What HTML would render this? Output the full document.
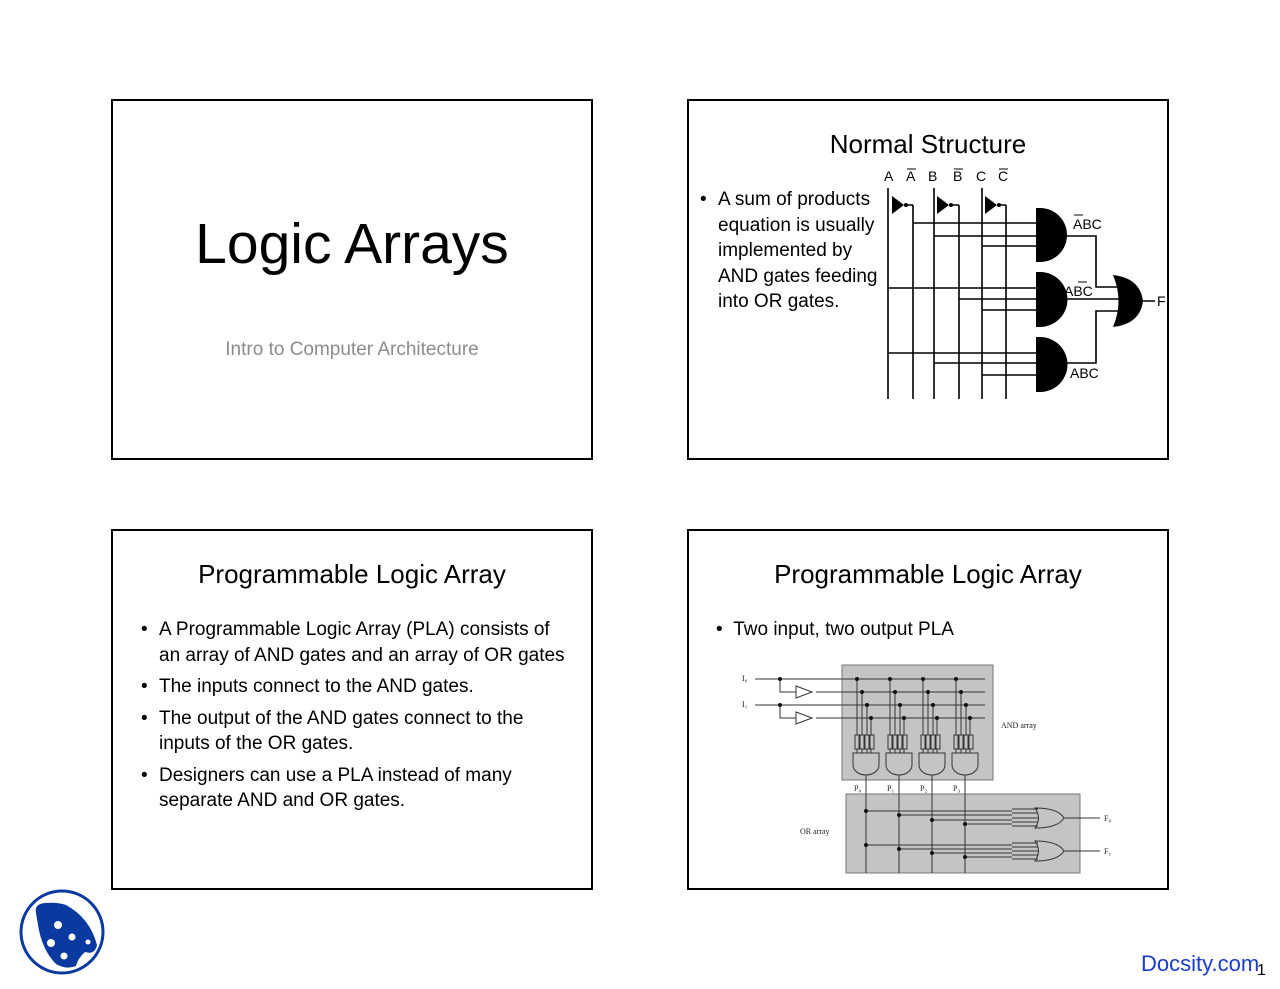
<!DOCTYPE html>
<html><head><meta charset="utf-8"><style>
body{margin:0;background:#fff;width:1280px;height:989px;overflow:hidden;font-family:"Liberation Sans",sans-serif}
.s{position:absolute;border:2px solid #000;box-sizing:border-box;width:482px;height:361px}
.t{position:absolute;font-family:"Liberation Sans",sans-serif;color:#000}
</style></head><body>
<div class="s" style="left:111px;top:99px"></div>
<div class="s" style="left:687px;top:99px"></div>
<div class="s" style="left:111px;top:529px"></div>
<div class="s" style="left:687px;top:529px"></div>

<div class="t" style="left:111px;width:482px;text-align:center;top:211px;font-size:57px">Logic Arrays</div>
<div class="t" style="left:111px;width:482px;text-align:center;top:339px;font-size:19px;color:#8c8c8c">Intro to Computer Architecture</div>

<div class="t" style="left:687px;width:482px;text-align:center;top:129px;font-size:26px">Normal Structure</div>
<div class="t" style="left:700px;top:187px;font-size:19px;line-height:25.5px">•</div>
<div class="t" style="left:718px;top:187px;font-size:19px;line-height:25.5px">A sum of products<br>equation is usually<br>implemented by<br>AND gates feeding<br>into OR gates.</div>

<div class="t" style="left:111px;width:482px;text-align:center;top:559px;font-size:26px">Programmable Logic Array</div>
<div class="t" style="left:141px;top:617px;font-size:19px;line-height:25.5px">
<div style="position:relative;padding-left:18px;margin-bottom:6px"><span style="position:absolute;left:0">•</span>A Programmable Logic Array (PLA) consists of<br>an array of AND gates and an array of OR gates</div>
<div style="position:relative;padding-left:18px;margin-bottom:6px"><span style="position:absolute;left:0">•</span>The inputs connect to the AND gates.</div>
<div style="position:relative;padding-left:18px;margin-bottom:6px"><span style="position:absolute;left:0">•</span>The output of the AND gates connect to the<br>inputs of the OR gates.</div>
<div style="position:relative;padding-left:18px"><span style="position:absolute;left:0">•</span>Designers can use a PLA instead of many<br>separate AND and OR gates.</div>
</div>

<div class="t" style="left:687px;width:482px;text-align:center;top:559px;font-size:26px">Programmable Logic Array</div>
<div class="t" style="left:716px;top:617px;font-size:19px;line-height:25.5px">•&nbsp;&nbsp;Two input, two output PLA</div>

<div style="position:absolute;left:1141px;top:951px;font-size:22px;color:#1a3cc8;font-family:'Liberation Sans',sans-serif">Docsity.com</div>
<div style="position:absolute;left:1257px;top:962px;font-size:16px">1</div>

<svg width="1280" height="989" style="position:absolute;left:0;top:0" font-family="Liberation Sans, sans-serif">
<circle cx="62" cy="932" r="41" fill="none" stroke="#0a3aa0" stroke-width="3"/>
<path d="M36 913 Q34 904 45 903 Q58 902 66 905 Q90 918 97 945 Q95 955 85 952 Q78 958 76 966 Q66 970 56 964 Q42 950 38 925 Z" fill="#0a3aa0"/>
<circle cx="58" cy="925" r="4" fill="#fff"/><circle cx="51" cy="943" r="4" fill="#fff"/><circle cx="72" cy="937" r="3.5" fill="#fff"/><circle cx="64" cy="956" r="3.5" fill="#fff"/><circle cx="88" cy="942" r="2.5" fill="#fff"/>

<g stroke="#000" stroke-width="1.6" fill="none">
<path d="M888 188V399M913 205V399M934 188V399M959 205V399M982 188V399M1006 205V399"/>
<path d="M905 205H913M949 205H959M997 205H1006"/>
<path d="M913 223H1036M934 236H1036M982 246H1036"/>
<path d="M888 288H1036M959 299H1036M982 310H1036"/>
<path d="M888 353H1036M934 363H1036M982 375H1036"/>
<path d="M1066 236H1096V287H1118M1066 299H1120M1066 363H1096V311H1118M1142 301H1155"/>
</g>
<g fill="#000">
<polygon points="892,196 892,214 904,205"/><polygon points="937,196 937,214 949,205"/><polygon points="985,196 985,214 997,205"/>
<circle cx="906" cy="205" r="2"/><circle cx="951" cy="205" r="2"/><circle cx="999" cy="205" r="2"/>
<path d="M1036 208H1040A27 27 0 0 1 1040 262H1036Z"/>
<path d="M1036 272H1040A27 27 0 0 1 1040 327H1036Z"/>
<path d="M1036 337H1040A27 27 0 0 1 1040 392H1036Z"/>
<path d="M1113 275Q1140 278 1143 301Q1140 324 1113 327Q1124 301 1113 275Z"/>
</g>
<g font-size="14" fill="#000">
<text x="884" y="181">A</text><text x="906" y="181">A</text><text x="928" y="181">B</text><text x="953" y="181">B</text><text x="976" y="181">C</text><text x="998" y="181">C</text>
<text x="1073" y="229">ABC</text><text x="1064" y="296">ABC</text><text x="1070" y="378">ABC</text><text x="1157" y="306">F</text>
</g>
<g stroke="#000" stroke-width="1"><path d="M907 169h9M954 169h9M999 169h9M1074 215h9M1078 282h9"/></g>

<rect x="842" y="665" width="151" height="115" fill="#c4c4c4" stroke="#777"/>
<rect x="846" y="794" width="234" height="79" fill="#c4c4c4" stroke="#777"/>
<g stroke="#333" stroke-width="1" fill="none">
<path d="M755 679H985M780 679V692H796M816 692H985M755 705H985M780 705V718H796M816 718H985"/>
<path d="M796 686L812 692L796 698Z M796 712L812 718L796 724Z"/>
<g id="c">
<path d="M857 679V735M862 692V735M867 705V735M871 718V735"/>
<rect x="855" y="735" width="4" height="14"/><rect x="860" y="735" width="4" height="14"/><rect x="865" y="735" width="4" height="14"/><rect x="870" y="735" width="4" height="14"/>
<path d="M857 749V753M862 749V753M867 749V753M871 749V753"/>
<path d="M853 753H879V765A13 10 0 0 1 853 765Z"/>
<path d="M866 775V873"/>
</g>
<use href="#c" x="33"/><use href="#c" x="66"/><use href="#c" x="99"/>
<path d="M866 811H1012M899 815H1012M932 820H1012M965 824H1012M866 845H1012M899 849H1012M932 853H1012M965 857H1012"/>
<path d="M1012 809h26M1012 813h26M1012 818h26M1012 822h26M1012 826h26M1012 843h26M1012 847h26M1012 851h26M1012 855h26M1012 859h26"/>
<path d="M1035 808Q1058 808 1064 818Q1058 828 1035 828Q1042 818 1035 808Z"/>
<path d="M1035 841Q1058 841 1064 851Q1058 861 1035 861Q1042 851 1035 841Z"/>
<path d="M1064 818H1100M1064 851H1100"/>
</g>
<g fill="#111">
<circle cx="780" cy="679" r="2"/><circle cx="780" cy="705" r="2"/>
<circle cx="857" cy="679" r="2"/><circle cx="862" cy="692" r="2"/><circle cx="867" cy="705" r="2"/><circle cx="871" cy="718" r="2"/>
<circle cx="890" cy="679" r="2"/><circle cx="895" cy="692" r="2"/><circle cx="900" cy="705" r="2"/><circle cx="904" cy="718" r="2"/>
<circle cx="923" cy="679" r="2"/><circle cx="928" cy="692" r="2"/><circle cx="933" cy="705" r="2"/><circle cx="937" cy="718" r="2"/>
<circle cx="956" cy="679" r="2"/><circle cx="961" cy="692" r="2"/><circle cx="966" cy="705" r="2"/><circle cx="970" cy="718" r="2"/>
<circle cx="866" cy="811" r="2"/><circle cx="899" cy="815" r="2"/><circle cx="932" cy="820" r="2"/><circle cx="965" cy="824" r="2"/>
<circle cx="866" cy="845" r="2"/><circle cx="899" cy="849" r="2"/><circle cx="932" cy="853" r="2"/><circle cx="965" cy="857" r="2"/>
</g>
<g font-family="Liberation Serif, serif" font-size="8" fill="#222">
<text x="742" y="681">I₀</text><text x="742" y="707">I₁</text><text x="1001" y="728">AND array</text><text x="800" y="834">OR array</text>
<text x="854" y="791">P₀</text><text x="887" y="791">P₁</text><text x="920" y="791">P₂</text><text x="953" y="791">P₃</text>
<text x="1104" y="821">F₀</text><text x="1104" y="854">F₁</text>
</g>
</svg>
</body></html>
